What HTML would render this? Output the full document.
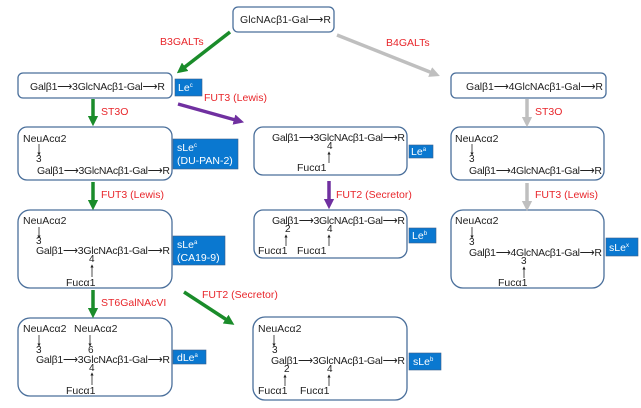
<!DOCTYPE html>
<html><head><meta charset="utf-8"><style>
html,body{margin:0;padding:0;background:#fff}
svg{display:block}
text{font-family:"Liberation Sans",sans-serif;font-size:10.5px;fill:#222}
.r{fill:#e8262b;font-size:10.5px}
.s{font-size:10px}
.w{fill:#fff;font-size:10.5px}
.b{fill:none;stroke:#4a6f9b;stroke-width:1.3}
.l{fill:#0a78d0;stroke:#3a5f8a;stroke-width:.6}
.t{stroke:#222;stroke-width:.8}
</style></head><body>
<svg width="641" height="408" viewBox="0 0 641 408" xmlns="http://www.w3.org/2000/svg">
<defs>
<marker id="ah" markerWidth="4" markerHeight="4" refX="2" refY="2" orient="auto"><path d="M0,0L4,2L0,4z" fill="#222"/></marker>
<marker id="g" markerWidth="3" markerHeight="3" refX="1.5" refY="1.5" orient="auto"><path d="M0,0L3,1.5L0,3z" fill="#1a8c2a"/></marker>
<marker id="p" markerWidth="3" markerHeight="3" refX="1.5" refY="1.5" orient="auto"><path d="M0,0L3,1.5L0,3z" fill="#7030a0"/></marker>
<marker id="y" markerWidth="3" markerHeight="3" refX="1.5" refY="1.5" orient="auto"><path d="M0,0L3,1.5L0,3z" fill="#bfbfbf"/></marker>
</defs>
<rect class="b" x="233" y="7" width="101" height="25" rx="5"/>
<rect class="b" x="18" y="73" width="154" height="25" rx="5"/>
<rect class="b" x="451" y="73" width="155" height="25" rx="5"/>
<rect class="b" x="18" y="127" width="154" height="53" rx="9"/>
<rect class="b" x="254" y="127" width="153" height="48" rx="9"/>
<rect class="b" x="451" y="127" width="153" height="53" rx="9"/>
<rect class="b" x="18" y="210" width="154" height="78" rx="12"/>
<rect class="b" x="254" y="210" width="153" height="48" rx="9"/>
<rect class="b" x="451" y="210" width="153" height="78" rx="12"/>
<rect class="b" x="18" y="318" width="154" height="78" rx="12"/>
<rect class="b" x="253" y="317" width="154" height="83" rx="12"/>
<rect class="l" x="175" y="79" width="27" height="17"/><text class="w" x="178" y="91">Le<tspan font-size="6" dy="-4">c</tspan></text>
<rect class="l" x="173" y="139" width="65" height="30"/><text class="w" x="177" y="151">sLe<tspan font-size="6" dy="-4">c</tspan></text><text class="w" x="177" y="164">(DU-PAN-2)</text>
<rect class="l" x="409" y="145" width="24" height="13"/><text class="w" x="411" y="155">Le<tspan font-size="6" dy="-4">a</tspan></text>
<rect class="l" x="409" y="228" width="27" height="15"/><text class="w" x="412" y="239">Le<tspan font-size="6" dy="-4">b</tspan></text>
<rect class="l" x="173" y="236" width="52" height="29"/><text class="w" x="177" y="248">sLe<tspan font-size="6" dy="-4">a</tspan></text><text class="w" x="177" y="261">(CA19-9)</text>
<rect class="l" x="606" y="238" width="32" height="18"/><text class="w" x="609" y="251">sLe<tspan font-size="6" dy="-4">x</tspan></text>
<rect class="l" x="173" y="350" width="33" height="14"/><text class="w" x="177" y="361">dLe<tspan font-size="6" dy="-4">a</tspan></text>
<rect class="l" x="409" y="353" width="32" height="17"/><text class="w" x="413" y="365">sLe<tspan font-size="6" dy="-4">b</tspan></text>
<g stroke-width="3.5">
<line x1="230" y1="32" x2="181" y2="70" stroke="#1a8c2a" marker-end="url(#g)"/>
<line x1="337" y1="35" x2="435" y2="74" stroke="#bfbfbf" marker-end="url(#y)"/>
<line x1="93" y1="99" x2="93" y2="121" stroke="#1a8c2a" marker-end="url(#g)"/>
<line x1="178" y1="104" x2="239" y2="121" stroke="#7030a0" marker-end="url(#p)"/>
<line x1="93" y1="182" x2="93" y2="205" stroke="#1a8c2a" marker-end="url(#g)"/>
<line x1="329" y1="181" x2="329" y2="204" stroke="#7030a0" marker-end="url(#p)"/>
<line x1="527" y1="99" x2="527" y2="122" stroke="#bfbfbf" marker-end="url(#y)"/>
<line x1="527" y1="183" x2="527" y2="206" stroke="#bfbfbf" marker-end="url(#y)"/>
<line x1="93" y1="290" x2="93" y2="313" stroke="#1a8c2a" marker-end="url(#g)"/>
<line x1="184" y1="292" x2="230" y2="322" stroke="#1a8c2a" marker-end="url(#g)"/>
</g>
<text class="r" x="160" y="45">B3GALTs</text>
<text class="r" x="386" y="46">B4GALTs</text>
<text class="r" x="101" y="115">ST3O</text>
<text class="r" x="204" y="101">FUT3 (Lewis)</text>
<text class="r" x="101" y="198">FUT3 (Lewis)</text>
<text class="r" x="336" y="198">FUT2 (Secretor)</text>
<text class="r" x="535" y="115">ST3O</text>
<text class="r" x="535" y="198">FUT3 (Lewis)</text>
<text class="r" x="101" y="306">ST6GalNAcVI</text>
<text class="r" x="202" y="298">FUT2 (Secretor)</text>
<text x="240" y="23" textLength="91">GlcNAcβ1-Gal⟶R</text>
<text x="30" y="90" textLength="135">Galβ1⟶3GlcNAcβ1-Gal⟶R</text>
<text x="466" y="90" textLength="137">Galβ1⟶4GlcNAcβ1-Gal⟶R</text>
<text x="23" y="142">NeuAcα2</text>
<line class="t" x1="39" y1="144" x2="39" y2="154" marker-end="url(#ah)"/>
<text class="s" x="36" y="162">3</text>
<text x="37" y="174" textLength="133">Galβ1⟶3GlcNAcβ1-Gal⟶R</text>
<text x="272" y="141" textLength="133">Galβ1⟶3GlcNAcβ1-Gal⟶R</text>
<text class="s" x="327" y="149">4</text>
<line class="t" x1="329" y1="163" x2="329" y2="153" marker-end="url(#ah)"/>
<text x="297" y="171">Fucα1</text>
<text x="455" y="142">NeuAcα2</text>
<line class="t" x1="472" y1="144" x2="472" y2="154" marker-end="url(#ah)"/>
<text class="s" x="469" y="162">3</text>
<text x="469" y="174" textLength="133">Galβ1⟶4GlcNAcβ1-Gal⟶R</text>
<text x="23" y="224">NeuAcα2</text>
<line class="t" x1="39" y1="227" x2="39" y2="237" marker-end="url(#ah)"/>
<text class="s" x="36" y="244">3</text>
<text x="36" y="254" textLength="134">Galβ1⟶3GlcNAcβ1-Gal⟶R</text>
<text class="s" x="89" y="262">4</text>
<line class="t" x1="92" y1="277" x2="92" y2="266" marker-end="url(#ah)"/>
<text x="66" y="286">Fucα1</text>
<text x="272" y="224" textLength="133">Galβ1⟶3GlcNAcβ1-Gal⟶R</text>
<text class="s" x="285" y="232">2</text>
<text class="s" x="327" y="232">4</text>
<line class="t" x1="286" y1="246" x2="286" y2="236" marker-end="url(#ah)"/>
<line class="t" x1="329" y1="246" x2="329" y2="236" marker-end="url(#ah)"/>
<text x="258" y="254">Fucα1</text>
<text x="297" y="254">Fucα1</text>
<text x="455" y="224">NeuAcα2</text>
<line class="t" x1="472" y1="227" x2="472" y2="237" marker-end="url(#ah)"/>
<text class="s" x="469" y="245">3</text>
<text x="469" y="256" textLength="133">Galβ1⟶4GlcNAcβ1-Gal⟶R</text>
<text class="s" x="521" y="264">3</text>
<line class="t" x1="524" y1="278" x2="524" y2="268" marker-end="url(#ah)"/>
<text x="498" y="286">Fucα1</text>
<text x="23" y="332">NeuAcα2</text>
<text x="74" y="332">NeuAcα2</text>
<line class="t" x1="39" y1="335" x2="39" y2="345" marker-end="url(#ah)"/>
<line class="t" x1="90" y1="335" x2="90" y2="345" marker-end="url(#ah)"/>
<text class="s" x="36" y="353">3</text>
<text class="s" x="88" y="353">6</text>
<text x="36" y="363" textLength="134">Galβ1⟶3GlcNAcβ1-Gal⟶R</text>
<text class="s" x="89" y="371">4</text>
<line class="t" x1="92" y1="385" x2="92" y2="374" marker-end="url(#ah)"/>
<text x="66" y="394">Fucα1</text>
<text x="258" y="332">NeuAcα2</text>
<line class="t" x1="274" y1="335" x2="274" y2="345" marker-end="url(#ah)"/>
<text class="s" x="272" y="353">3</text>
<text x="271" y="364" textLength="134">Galβ1⟶3GlcNAcβ1-Gal⟶R</text>
<text class="s" x="284" y="372">2</text>
<text class="s" x="327" y="372">4</text>
<line class="t" x1="285" y1="386" x2="285" y2="376" marker-end="url(#ah)"/>
<line class="t" x1="329" y1="386" x2="329" y2="376" marker-end="url(#ah)"/>
<text x="258" y="394">Fucα1</text>
<text x="300" y="394">Fucα1</text>
</svg>
</body></html>
